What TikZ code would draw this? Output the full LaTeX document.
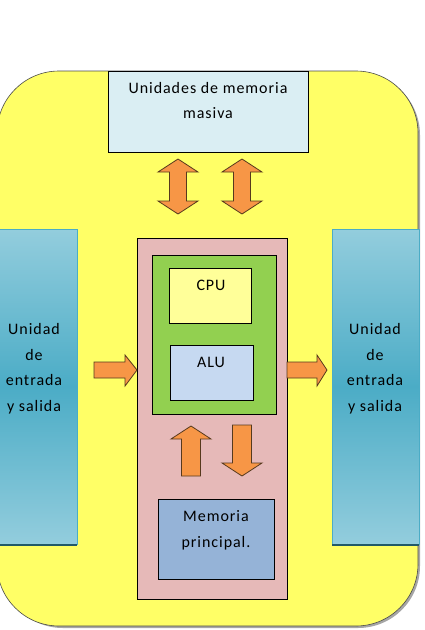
\documentclass[tikz,border=0pt]{standalone}
\usepackage{fontspec}
\setmainfont{Carlito}[LetterSpace=6]
\usetikzlibrary{calc}

\definecolor{fondo}{HTML}{FFFF66}
\definecolor{masiva}{HTML}{DAEEF3}
\definecolor{rosa}{HTML}{E6B9B8}
\definecolor{verde}{HTML}{92D050}
\definecolor{cpu}{HTML}{FFFF99}
\definecolor{alu}{HTML}{C6D9F1}
\definecolor{principal}{HTML}{95B3D7}
\definecolor{naranja}{HTML}{F79646}
\definecolor{azulclaro}{HTML}{93CDDD}
\definecolor{azul}{HTML}{4BACC6}
\definecolor{azuloscuro}{HTML}{215968}

\tikzset{
  texto/.style={font=\fontsize{16}{25.5}\selectfont, align=center, inner sep=0pt, anchor=base},
  caja/.style={draw=black, line width=0.8pt},
  flecha/.style={fill=naranja, draw=brown!45!black, line width=0.8pt, line join=miter},
  es/.style={top color=azulclaro, bottom color=azulclaro, middle color=azul, draw=azul, line width=0.6pt}
}

\begin{document}
\begin{tikzpicture}[x=1pt,y=-1pt]
\useasboundingbox (0,0) rectangle (425,630);

% fondo amarillo
\fill[gray!70, rounded corners=62pt] (1,73) rectangle (420,628);
\draw[fill=fondo, draw=gray!60!black, line width=0.6pt, rounded corners=62pt] (-3,71) rectangle (418,626);

% unidades de entrada y salida
\shade[es] (-10,229) rectangle (77,544);
\draw[azuloscuro, line width=1.5pt] (-10,545) -- (77,545);
\shade[es] (332,229) rectangle (419,544);
\draw[azuloscuro, line width=1.5pt] (332,545) -- (419,545);
\node[texto] (esizq) at (34,411) {Unidad\\de\\entrada\\y salida};
\node[texto] (esder) at (375,411) {Unidad\\de\\entrada\\y salida};

% memoria masiva
\draw[caja, fill=masiva] (108,71) rectangle (308,152);
\node[texto] (masiva) at (208,118.5) {Unidades de memoria\\masiva};

% dobles flechas
\draw[flecha] (178,159) -- (198,172) -- (186.5,172) -- (186.5,201) -- (198,201) -- (178,214)
  -- (158,201) -- (169.5,201) -- (169.5,172) -- (158,172) -- cycle;
\draw[flecha] (242,159) -- (262,172) -- (250.5,172) -- (250.5,201) -- (262,201) -- (242,214)
  -- (222,201) -- (233.5,201) -- (233.5,172) -- (222,172) -- cycle;

% bloque central
\draw[caja, fill=rosa] (137,238) rectangle (287,599);
\draw[caja, fill=verde] (152,255) rectangle (276,414);
\draw[caja, fill=cpu] (169,268) rectangle (251,323);
\node[texto] (cpu) at (211,290.5) {CPU};
\draw[caja, fill=alu] (170,345) rectangle (253,400);
\node[texto] (alu) at (211,367.5) {ALU};
\draw[caja, fill=principal] (158,499) rectangle (274,579);
\node[texto] (principal) at (216,547) {Memoria\\principal.};

% flechas de entrada y salida
\draw[flecha] (94,362) -- (125,362) -- (125,355) -- (137,370) -- (125,386) -- (125,378) -- (94,378) -- cycle;
\draw[flecha] (287,362) -- (317,362) -- (317,355) -- (327,370) -- (317,386) -- (317,378) -- (287,378) -- cycle;

% flechas con la memoria principal
\draw[flecha] (191,426) -- (211,439) -- (200.5,439) -- (200.5,476) -- (181.5,476) -- (181.5,439) -- (171,439) -- cycle;
\draw[flecha] (232.5,425) -- (251.5,425) -- (251.5,463) -- (262,463) -- (242,476) -- (222,463) -- (232.5,463) -- cycle;

\end{tikzpicture}
\end{document}
